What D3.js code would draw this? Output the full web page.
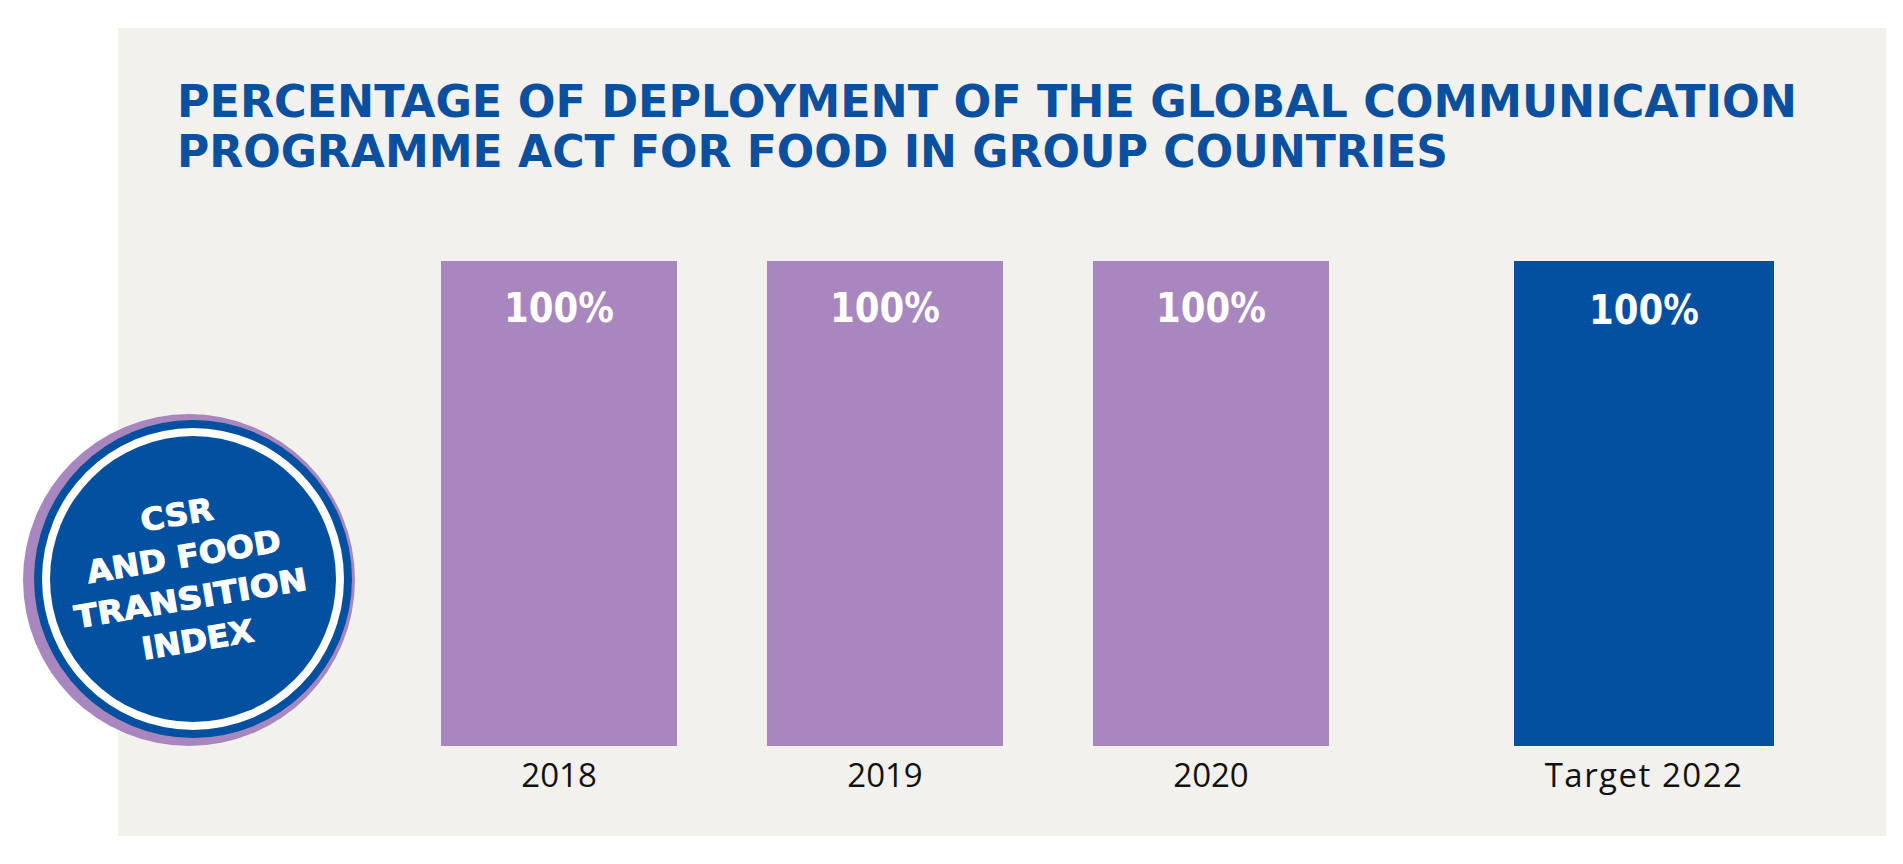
<!DOCTYPE html>
<html>
<head>
<meta charset="utf-8">
<script src="https://cdn.jsdelivr.net/npm/d3@7"></script>
<style>
html,body{margin:0;padding:0;background:#ffffff;}
svg{display:block;}
</style>
</head>
<body>
<script>
// ---- data ----
const titleLines = ["PERCENTAGE OF DEPLOYMENT OF THE GLOBAL COMMUNICATION", "PROGRAMME ACT FOR FOOD IN GROUP COUNTRIES"];
const years = ["2018", "2019", "2020"];
const yearValues = [100, 100, 100];
const targets = ["Target 2022"];
const targetValues = [100];
const badgeLines = ["CSR", "AND FOOD", "TRANSITION", "INDEX"];

// ---- layout ----
const W = 1903, H = 864;
const purple = "#a887be", blue = "#0450a0", titleBlue = "#0b4f9f";
const svg = d3.select("body").append("svg").attr("width", W).attr("height", H);

svg.append("rect").attr("x", 118).attr("y", 28).attr("width", 1768).attr("height", 808).attr("fill", "#f2f1ed");

// title
const titleWidths = [1620, 1271];
svg.selectAll("text.title").data(titleLines).join("text")
  .attr("class", "title")
  .attr("x", 177).attr("y", (d, i) => 117 + i * 50)
  .attr("font-family", "DejaVu Sans").attr("font-weight", "bold").attr("font-size", 44)
  .attr("fill", titleBlue)
  .attr("textLength", (d, i) => titleWidths[i]).attr("lengthAdjust", "spacingAndGlyphs")
  .text(d => d);

// scales
const y = d3.scaleLinear().domain([0, 100]).range([746, 261]);
const xYears = d3.scaleBand().domain(years).range([441, 1329]).paddingInner(0.276).paddingOuter(0);
const xTarget = d3.scaleBand().domain(targets).range([1514, 1774]).padding(0);

function drawGroup(cats, vals, x, color, labelOffset, labelSpacing) {
  const data = cats.map((c, i) => ({c, v: vals[i]}));
  const g = svg.append("g");
  g.selectAll("rect").data(data).join("rect")
    .attr("x", d => x(d.c)).attr("width", x.bandwidth())
    .attr("y", d => y(d.v)).attr("height", d => y(0) - y(d.v))
    .attr("fill", color);
  g.selectAll("text.val").data(data).join("text")
    .attr("class", "val")
    .attr("x", d => x(d.c) + x.bandwidth() / 2)
    .attr("y", d => y(d.v) + labelOffset)
    .attr("text-anchor", "middle")
    .attr("font-family", "DejaVu Sans").attr("font-weight", "bold").attr("font-size", 41)
    .attr("fill", "#ffffff")
    .attr("textLength", 110).attr("lengthAdjust", "spacingAndGlyphs")
    .text(d => d.v + "%");
  const ax = svg.append("g").attr("transform", `translate(0,${y(0)})`)
    .call(d3.axisBottom(x).tickSize(0));
  ax.select(".domain").remove();
  ax.selectAll("text")
    .attr("y", 41).attr("dy", 0)
    .attr("font-family", "Open Sans").attr("font-size", 33)
    .attr("letter-spacing", labelSpacing)
    .attr("fill", "#111111");
}
drawGroup(years, yearValues, xYears, purple, 61, 0);
drawGroup(targets, targetValues, xTarget, blue, 63, 1.5);

// badge
const badge = svg.append("g");
badge.append("circle").attr("cx", 189).attr("cy", 580).attr("r", 166).attr("fill", purple);
badge.append("circle").attr("cx", 193).attr("cy", 579).attr("r", 159).attr("fill", blue);
badge.append("circle").attr("cx", 193).attr("cy", 579).attr("r", 151).attr("fill", "#ffffff");
badge.append("circle").attr("cx", 193).attr("cy", 579).attr("r", 143).attr("fill", blue);
const bt = badge.append("g").attr("transform", "translate(189,588) rotate(-9.5)");
const badgeWidths = [73, 196, 235, 113];
bt.selectAll("text").data(badgeLines).join("text")
  .attr("x", 0).attr("y", (d, i) => -63.5 + i * 42.3)
  .attr("text-anchor", "middle")
  .attr("font-family", "DejaVu Sans").attr("font-weight", "bold").attr("font-size", 31)
  .attr("fill", "#ffffff").attr("stroke", "#ffffff").attr("stroke-width", 1)
  .attr("textLength", (d, i) => badgeWidths[i]).attr("lengthAdjust", "spacingAndGlyphs")
  .text(d => d);
</script>
</body>
</html>
